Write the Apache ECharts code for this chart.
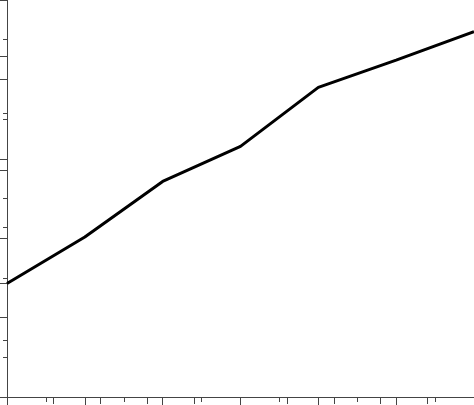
<!DOCTYPE html>
<html><head><meta charset="utf-8">
<script src="https://cdn.jsdelivr.net/npm/echarts@6/dist/echarts.min.js"></script>
<style>html,body{margin:0;padding:0;background:#fff}#c{width:474px;height:405px}</style>
</head><body><div id="c"></div>
<script>
const xValues = [0, 2, 4, 6, 8, 10, 12];
const yValues = [1.0, 1.41, 1.90, 2.21, 2.73, 2.97, 3.22];
const chart = echarts.init(document.getElementById('c'));
const ax = '#444';
chart.setOption({
  animation: false,
  grid: {left: 7, right: 0, top: 0, bottom: 8},
  xAxis: [
    {type: 'value', min: 0, max: 12, interval: 2, position: 'bottom',
     axisLine: {show: true, onZero: false, lineStyle: {color: ax}},
     axisTick: {show: true, inside: false, length: 8, lineStyle: {color: ax}},
     minorTick: {show: true, splitNumber: 2, length: 5, lineStyle: {color: ax}},
     axisLabel: {show: false}, splitLine: {show: false}},
    {type: 'value', min: 0, max: 10, interval: 1, position: 'top',
     axisLine: {show: false},
     axisTick: {show: true, inside: true, length: 7, lineStyle: {color: ax}},
     axisLabel: {show: false}, splitLine: {show: false}}
  ],
  yAxis: [
    {type: 'value', min: 0, max: 3.5, interval: 1, position: 'left',
     axisLine: {show: true, onZero: false, lineStyle: {color: ax}},
     axisTick: {show: true, inside: false, length: 7, lineStyle: {color: ax}},
     minorTick: {show: true, splitNumber: 2, length: 4, lineStyle: {color: ax}},
     axisLabel: {show: false}, splitLine: {show: false}},
    {type: 'value', min: 0, max: 10, interval: 2, position: 'right',
     axisLine: {show: false},
     axisTick: {show: true, inside: true, length: 8, lineStyle: {color: ax}},
     minorTick: {show: true, splitNumber: 2, length: 4, lineStyle: {color: ax}},
     axisLabel: {show: false}, splitLine: {show: false}}
  ],
  series: [{type: 'line', xAxisIndex: 0, yAxisIndex: 0,
    data: xValues.map((x, i) => [x, yValues[i]]),
    symbol: 'none', lineStyle: {color: '#000', width: 3}}]
});
</script></body></html>
